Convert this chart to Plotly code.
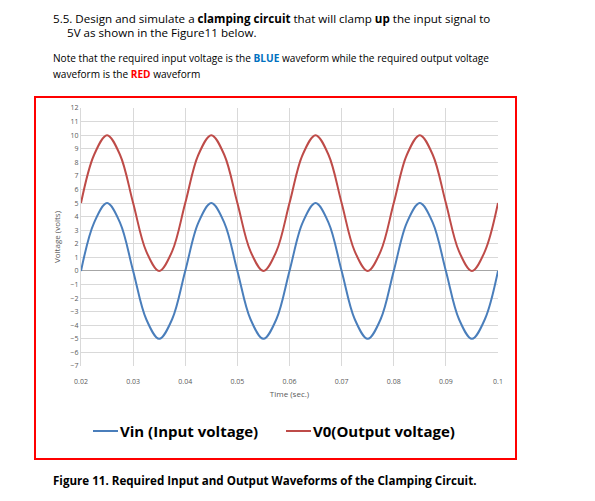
import plotly.graph_objects as go

# sampled every 0.0025 s from 0.02 to 0.1
time_s = [0.02 + 0.0025 * i for i in range(33)]
vin = [0, 3.54, 5, 3.54, 0, -3.54, -5, -3.54] * 4 + [0]
vout = [5, 8.54, 10, 8.54, 5, 1.46, 0, 1.46] * 4 + [5]

y_ticks = list(range(-7, 13))
x_ticks = [0.02, 0.03, 0.04, 0.05, 0.06, 0.07, 0.08, 0.09, 0.1]
x_labels = ["0.02", "0.03", "0.04", "0.05", "0.06", "0.07", "0.08", "0.09", "0.1"]

BLUE = "#4a7ebb"
RED = "#be4b48"
FONT = "Open Sans"

# map wanted screen pixels to figure pixels (page margin in the viewer)
def sx(v):
    return v - 7

def sy(v):
    return v - 7

W, H = 588, 494
L, R, T, B = sx(80), sx(497), sy(107), sy(365)

fig = go.Figure()
fig.add_trace(go.Scatter(x=time_s, y=vin, mode="lines", line=dict(color=BLUE, width=2, shape="spline"),
                         name="Vin (Input voltage)"))
fig.add_trace(go.Scatter(x=time_s, y=vout, mode="lines", line=dict(color=RED, width=2, shape="spline"),
                         name="V0(Output voltage)"))

fig.update_layout(
    width=W, height=H,
    margin=dict(l=L, r=W - R, t=T, b=H - B, autoexpand=False),
    paper_bgcolor="white", plot_bgcolor="white",
    font=dict(family=FONT, color="#595959"),
    showlegend=False,
    xaxis=dict(range=[0.02, 0.1], tickvals=x_ticks, ticktext=x_labels, tickfont=dict(size=7),
               showgrid=True, gridcolor="#d9d9d9", zeroline=False, showline=False,
               ticklabelstandoff=10,
               title=dict(text="Time (sec.)", font=dict(size=8), standoff=6)),
    yaxis=dict(range=[-7, 12], tickvals=y_ticks, tickfont=dict(size=7),
               showgrid=True, gridcolor="#d9d9d9", zeroline=True, zerolinecolor="#a6a6a6",
               zerolinewidth=1, showline=True, linecolor="#d9d9d9",
               title=dict(text="Voltage (volts)", font=dict(size=8), standoff=8)),
)

def px(x, y):
    return (sx(x) - L) / (R - L), (B - sy(y)) / (B - T)

# red frame around the chart
fx0, fy1 = px(34, 458)
fx1, fy0 = px(515, 96)
fig.add_shape(type="rect", xref="paper", yref="paper", x0=fx0, x1=fx1, y0=fy1, y1=fy0,
              line=dict(color="#ff0000", width=2))

texts = [
    (50, 17, "5.5. Design and simulate a <b>clamping circuit</b> that will clamp <b>up</b> the input signal to", 11.6),
    (64, 32, "5V as shown in the Figure11 below.", 11.6),
    (50, 57, "Note that the required input voltage is the <b><span style='color:#0070c0'>BLUE</span></b> waveform while the required output voltage", 10.1),
    (50, 73, "waveform is the <b><span style='color:#ff0000'>RED</span></b> waveform", 10.1),
    (50, 479, "<b>Figure 11. Required Input and Output Waveforms of the Clamping Circuit.</b>", 11.6),
]
for x, y, t, s in texts:
    ax, ay = px(x, y)
    fig.add_annotation(x=ax, y=ay, xref="paper", yref="paper", text=t, showarrow=False,
                       xanchor="left", yanchor="middle", font=dict(size=s, color="#000", family=FONT))

# legend drawn as annotations with line samples
for x0, label, col in [(92, "Vin (Input voltage)", BLUE), (285, "V0(Output voltage)", RED)]:
    a0, ay = px(x0, 430)
    a1, _ = px(x0 + 25, 430)
    fig.add_shape(type="line", xref="paper", yref="paper", x0=a0, x1=a1, y0=ay, y1=ay,
                  line=dict(color=col, width=2))
    fig.add_annotation(x=a1, y=ay, xref="paper", yref="paper", text="<b>" + label + "</b>",
                       showarrow=False, xanchor="left", yanchor="middle",
                       font=dict(size=15, color="#000", family=FONT))

fig.write_html("out.html")
